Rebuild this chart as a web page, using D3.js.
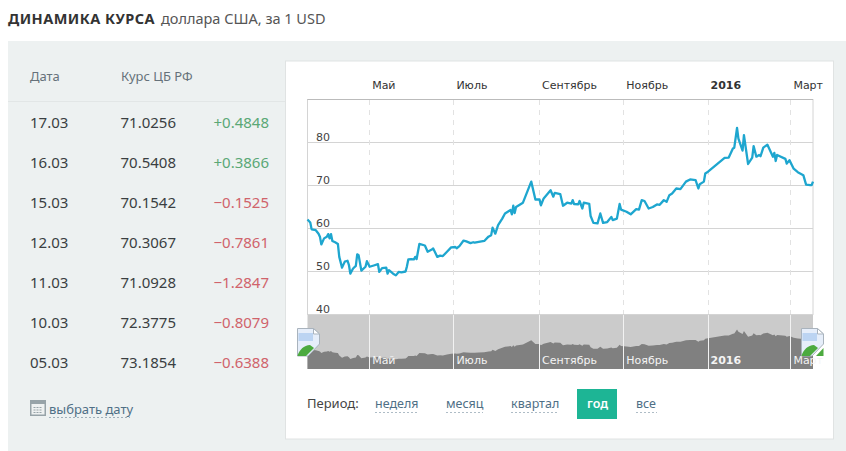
<!DOCTYPE html>
<meta charset="utf-8">
<style>
html, body { margin:0; padding:0; background:#fff; overflow:hidden; }
text { font-family:"Noto Sans",sans-serif; }
.plot text { font-family:"DejaVu Sans",sans-serif; font-size:11px; }
</style>
<script src="https://d3js.org/d3.v7.min.js"></script>
<div id="chart"></div>
<script>
// table on the left
var tableDates = ["17.03","16.03","15.03","12.03","11.03","10.03","05.03"];
var tableRates = ["71.0256","70.5408","70.1542","70.3067","71.0928","72.3775","73.1854"];
var tableChanges = ["+0.4848","+0.3866","−0.1525","−0.7861","−1.2847","−0.8079","−0.6388"];

// rate line: days since the first date, and the USD rate
var firstDate = new Date(2015, 2, 17);
var dayOffsets = [0,2,3,6,8,9,10,12,14,15,16,17,18,20,22,23,25,27,29,30,31,33,35,36,37,39,42,43,45,48,51,52,54,57,58,59,62,64,66,68,71,72,73,75,77,78,79,81,85,87,90,91,94,96,98,101,104,107,108,110,113,115,118,120,121,124,128,131,133,134,136,138,141,143,147,148,149,150,151,156,162,165,168,169,171,176,178,179,183,185,188,191,192,193,196,197,199,200,204,205,207,210,212,214,217,220,221,224,226,227,231,234,238,240,242,244,247,250,253,255,258,260,262,264,267,270,274,277,281,283,284,287,288,290,302,305,308,309,311,312,315,316,319,322,323,325,327,328,330,333,337,338,339,340,346,347,349,352,355,359,361,364,365,366];
var rates = [62.1,61.4,59.8,59.6,58.8,58.1,56.3,57.7,58.1,58.7,57.7,58.7,57.1,56.8,56.4,53.4,50.9,52.3,52.5,51.5,49.5,50.7,51.3,54.0,53.8,50.2,51.1,52.4,51.1,51.4,51.7,49.9,50.8,50.9,49.5,50.3,49.5,49.1,49.9,49.8,50.0,51.2,52.8,52.9,52.8,53.4,52.9,56.4,56.05,54.6,55.1,55.35,53.4,53.7,53.6,54.6,55.6,55.7,55.4,55.9,57.2,57.0,56.6,56.8,56.7,56.9,57.1,58.1,58.45,60.2,58.8,60.8,62.3,63.5,64.3,63.3,65.3,63.6,65.0,66.0,70.9,66.75,66.75,65.4,67.0,68.9,67.4,68.3,68.0,65.3,66.0,65.8,66.6,65.7,65.6,66.4,64.65,66.0,65.7,62.9,61.3,61.2,63.5,61.3,61.5,62.7,61.95,62.3,65.7,64.4,63.9,63.3,64.5,64.4,66.6,66.4,64.65,65.0,65.6,65.5,66.6,66.2,67.75,68.15,69.3,69.15,70.9,71.4,71.25,69.3,70.3,70.9,72.8,73.2,76.4,76.5,78.6,78.8,83.4,80.9,78.1,81.7,75.0,76.5,79.15,76.7,77.1,76.8,78.8,79.5,76.7,77.6,75.7,77.1,76.2,75.1,75.9,73.9,73.1,72.4,70.2,70.1,70.1,70.9];

// axis ticks
var monthDates = [new Date(2015,4,1),new Date(2015,6,1),new Date(2015,8,1),new Date(2015,10,1),new Date(2016,0,1),new Date(2016,2,1)];
var monthLabels = ["Май","Июль","Сентябрь","Ноябрь","2016","Март"];
var yTicks = [40,50,60,70,80];
var periods = ["неделя","месяц","квартал","год","все"];

var series = dayOffsets.map(function(d, i) {
  return {date: d3.timeDay.offset(firstDate, d), value: rates[i]};
});

var svg = d3.select("#chart").append("svg")
  .attr("width", 846).attr("height", 451)
  .style("display", "block");

// page background and card
svg.append("rect").attr("x", 8).attr("y", 41).attr("width", 838).attr("height", 410).attr("fill", "#edf1f1");
svg.append("rect").attr("x", 285.5).attr("y", 61).attr("width", 548).attr("height", 378)
  .attr("fill", "#fff").attr("stroke", "#e0e3e3").attr("stroke-width", 1);

// title
var title = svg.append("text").attr("x", 8).attr("y", 24).attr("fill", "#333");
title.append("tspan").text("ДИНАМИКА КУРСА").attr("font-weight", 700).attr("font-size", 14.5).attr("letter-spacing", 0.45);
title.append("tspan").text("доллара США, за 1 USD").attr("font-size", 14.5).attr("fill", "#555").attr("dx", 6);

// table
svg.append("text").attr("x", 30).attr("y", 81).text("Дата").attr("font-size", 13).attr("fill", "#66717a");
svg.append("text").attr("x", 121).attr("y", 81).text("Курс ЦБ РФ").attr("font-size", 13).attr("fill", "#66717a");
svg.append("line").attr("x1", 8).attr("x2", 285).attr("y1", 101.5).attr("y2", 101.5).attr("stroke", "#e2e6e6");

var rowY = d3.scalePoint().domain(tableDates).range([127.5, 367.5]);
var rows = svg.append("g").selectAll("g").data(tableDates).join("g")
  .attr("transform", function(d) { return "translate(0," + rowY(d) + ")"; });
rows.append("text").attr("x", 30).text(function(d) { return d; })
  .attr("font-size", 15).attr("fill", "#3a3f42");
rows.append("text").attr("x", 120.5).text(function(d, i) { return tableRates[i]; })
  .attr("font-size", 15).attr("fill", "#3a3f42");
rows.append("text").attr("x", 269).attr("text-anchor", "end").text(function(d, i) { return tableChanges[i]; })
  .attr("font-size", 15)
  .attr("fill", function(d, i) { return tableChanges[i][0] === "+" ? "#5aa876" : "#d0636b"; });

// pick a date link with calendar icon
var cal = svg.append("g").attr("transform", "translate(30,400)");
cal.append("rect").attr("x", 0.75).attr("y", 0.75).attr("width", 14.5).attr("height", 14.5).attr("fill", "#eef1f1").attr("stroke", "#97a3a8").attr("stroke-width", 1.5);
cal.append("rect").attr("x", 0).attr("y", 0).attr("width", 16).attr("height", 4).attr("fill", "#97a3a8");
cal.append("g").selectAll("line").data([7.5, 10, 12.5]).join("line")
  .attr("x1", 3.5).attr("x2", 12.5).attr("y1", function(d) { return d; }).attr("y2", function(d) { return d; })
  .attr("stroke", "#97a3a8").attr("stroke-width", 1.2).attr("stroke-dasharray", "2,1");
svg.append("text").attr("x", 49).attr("y", 414).text("выбрать дату").attr("font-size", 13).attr("fill", "#4f6f86");
svg.append("line").attr("x1", 49).attr("x2", 130).attr("y1", 417.5).attr("y2", 417.5)
  .attr("stroke", "#9fb0bb").attr("stroke-dasharray", "2,2");

// main plot
var x = d3.scaleTime().domain([firstDate, new Date(2016, 2, 17)]).range([307.5, 813]);
var y = d3.scaleLinear().domain([40, 90]).range([314.5, 99.5]);
var plot = svg.append("g").attr("class", "plot");

plot.append("rect").attr("x", 307.5).attr("y", 99.5).attr("width", 505.5).attr("height", 215)
  .attr("fill", "none").attr("stroke", "#d4d4d4");
plot.append("line").attr("x1", 307.5).attr("x2", 813).attr("y1", 99.5).attr("y2", 99.5).attr("stroke", "#bbb");

plot.append("g").selectAll("line").data(yTicks).join("line")
  .attr("x1", 307.5).attr("x2", 813)
  .attr("y1", function(d) { return Math.floor(y(d)) + 0.5; })
  .attr("y2", function(d) { return Math.floor(y(d)) + 0.5; })
  .attr("stroke", "#d4d4d4");

plot.append("g").selectAll("line").data(monthDates).join("line")
  .attr("x1", function(d) { return Math.floor(x(d)) + 0.5; })
  .attr("x2", function(d) { return Math.floor(x(d)) + 0.5; })
  .attr("y1", 100).attr("y2", 314)
  .attr("stroke", "#e2e2e2").attr("stroke-dasharray", "5,5");

plot.append("g").selectAll("text").data(yTicks).join("text")
  .attr("x", 316).attr("y", function(d) { return y(d) - 1.5; })
  .text(function(d) { return d; }).attr("fill", "#444");

plot.append("g").selectAll("text").data(monthLabels).join("text")
  .attr("x", function(d, i) { return x(monthDates[i]) + 2.5; })
  .attr("y", 89)
  .text(function(d) { return d; })
  .attr("font-weight", function(d) { return d === "2016" ? 700 : 400; })
  .attr("fill", "#333");

plot.append("path").datum(series)
  .attr("fill", "none").attr("stroke", "#1ea6cf").attr("stroke-width", 2.3).attr("stroke-linejoin", "round")
  .attr("d", d3.line().x(function(d) { return x(d.date); }).y(function(d) { return y(d.value); }));

// navigator under the plot
var navY = d3.scaleLinear().domain([38, 100]).range([369, 315]);
var nav = svg.append("g").attr("class", "plot");
nav.append("rect").attr("x", 307.5).attr("y", 315).attr("width", 505.5).attr("height", 54).attr("fill", "#cbcbcb");
nav.append("path").datum(series).attr("fill", "#808080")
  .attr("d", d3.area().x(function(d) { return x(d.date); }).y0(369).y1(function(d) { return navY(d.value); }));
nav.append("g").selectAll("line").data(monthDates).join("line")
  .attr("x1", function(d) { return Math.floor(x(d)) + 0.5; })
  .attr("x2", function(d) { return Math.floor(x(d)) + 0.5; })
  .attr("y1", 315).attr("y2", 369).attr("stroke", "#f2f2f2");
nav.append("g").selectAll("text").data(monthLabels).join("text")
  .attr("x", function(d, i) { return x(monthDates[i]) + 2.5; })
  .attr("y", 364)
  .text(function(d) { return d; })
  .attr("font-weight", function(d) { return d === "2016" ? 700 : 400; })
  .attr("fill", "#f4f4f4");

// broken image placeholders on the navigator handles
function brokenIcon(px, py, corner) {
  var g = svg.append("g").attr("transform", "translate(" + px + "," + py + ")");
  // page with the lower right corner torn off
  g.append("path").attr("d", "M0.5,28V0.5H16.5L22.5,6V16L11,28Z").attr("fill", "#e6eefa").attr("stroke", "#a9b3bd");
  g.append("path").attr("d", "M16.5,0.5V6H22.5Z").attr("fill", "#fff").attr("stroke", "#a9b3bd");
  g.append("path").attr("d", "M1.5,5H16V13H1.5Z").attr("fill", "#bcd4f2");
  g.append("path").attr("d", "M0.5,28C2,22 7,17 13,17L17,20L9,28Z").attr("fill", "#4caa3f");
  if (corner) g.append("path").attr("d", "M22.5,20V28H15Z").attr("fill", "#4caa3f");
}
brokenIcon(297, 328, false);
brokenIcon(801, 328, true);

// period selector
svg.append("text").attr("x", 307).attr("y", 408).text("Период:").attr("font-size", 13).attr("fill", "#444");
var periodX = d3.scaleOrdinal().domain(periods).range([375, 446, 511, 587, 636]);
var periodW = d3.scaleOrdinal().domain(periods).range([42, 37, 48, 0, 21]);
svg.append("rect").attr("x", 577).attr("y", 389).attr("width", 40).attr("height", 30).attr("fill", "#1db595");
svg.append("g").selectAll("text").data(periods).join("text")
  .attr("x", function(d) { return periodX(d); }).attr("y", 408)
  .text(function(d) { return d; })
  .attr("font-size", 12.5)
  .attr("font-weight", function(d) { return d === "год" ? 600 : 400; })
  .attr("fill", function(d) { return d === "год" ? "#fff" : "#4f6f86"; });
svg.append("g").selectAll("line").data(periods.filter(function(d) { return d !== "год"; })).join("line")
  .attr("x1", function(d) { return periodX(d); })
  .attr("x2", function(d) { return periodX(d) + periodW(d); })
  .attr("y1", 412.5).attr("y2", 412.5)
  .attr("stroke", "#aebcc6").attr("stroke-dasharray", "2,2");
</script>
